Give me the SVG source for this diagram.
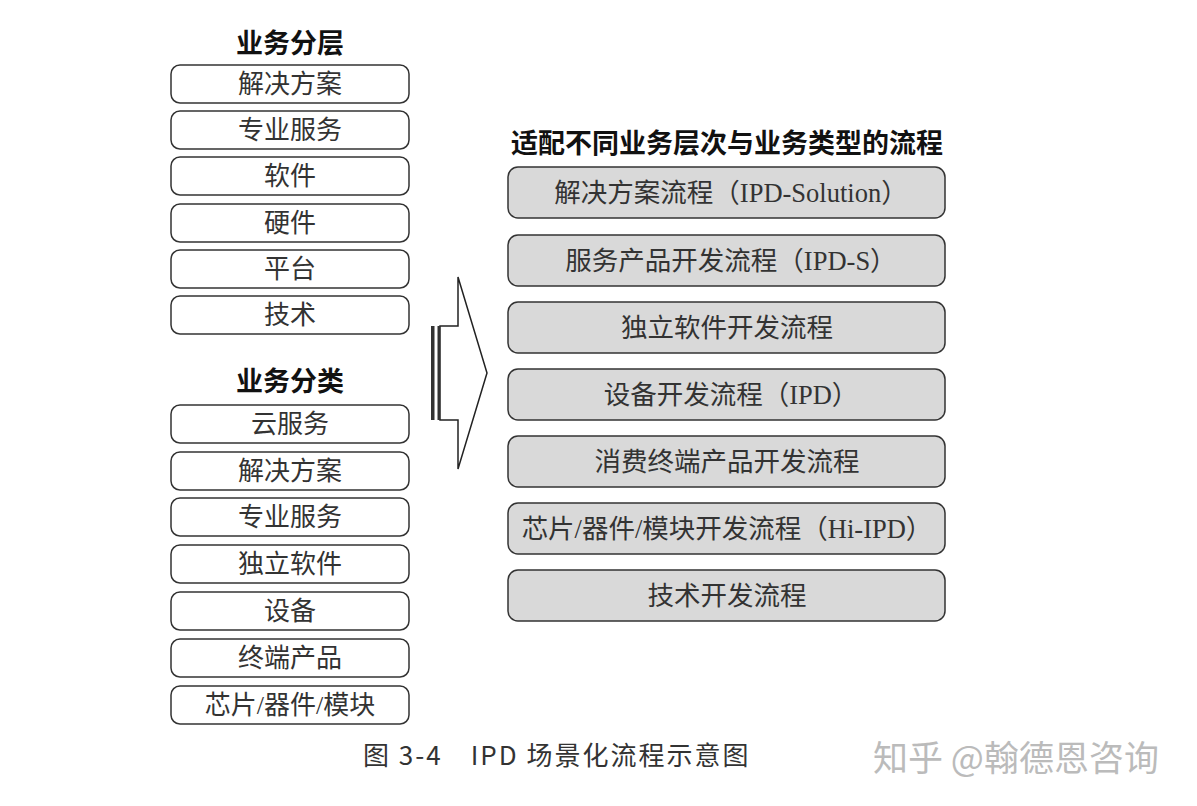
<svg xmlns="http://www.w3.org/2000/svg" width="1197" height="806" viewBox="0 0 1197 806">
<style>
.lb{fill:#fff;stroke:#333;stroke-width:1.5}
.rb{fill:#d9d9d9;stroke:#333;stroke-width:1.5}
.t{font-family:"Liberation Serif","Noto Sans CJK SC",serif;font-size:26px;fill:#333;text-anchor:middle;dominant-baseline:central}
.r{font-size:26.5px}
.h{font-family:"Liberation Serif","Noto Sans CJK SC",serif;font-size:27px;font-weight:bold;fill:#111;text-anchor:middle;dominant-baseline:central}
</style>
<rect width="1197" height="806" fill="#fff"/>
<text class="h" x="290" y="44">业务分层</text>
<g id="l1"><rect class="lb" x="171" y="65" width="238" height="38" rx="9"/><text class="t" x="290" y="84">解决方案</text></g>
<g id="l2"><rect class="lb" x="171" y="111" width="238" height="38" rx="9"/><text class="t" x="290" y="130">专业服务</text></g>
<g id="l3"><rect class="lb" x="171" y="157" width="238" height="38" rx="9"/><text class="t" x="290" y="176">软件</text></g>
<g id="l4"><rect class="lb" x="171" y="204" width="238" height="38" rx="9"/><text class="t" x="290" y="223">硬件</text></g>
<g id="l5"><rect class="lb" x="171" y="250" width="238" height="38" rx="9"/><text class="t" x="290" y="269">平台</text></g>
<g id="l6"><rect class="lb" x="171" y="296" width="238" height="38" rx="9"/><text class="t" x="290" y="315">技术</text></g>
<text class="h" x="290" y="382">业务分类</text>
<g id="c1"><rect class="lb" x="171" y="405" width="238" height="38" rx="9"/><text class="t" x="290" y="424">云服务</text></g>
<g id="c2"><rect class="lb" x="171" y="452" width="238" height="38" rx="9"/><text class="t" x="290" y="471">解决方案</text></g>
<g id="c3"><rect class="lb" x="171" y="498" width="238" height="38" rx="9"/><text class="t" x="290" y="517">专业服务</text></g>
<g id="c4"><rect class="lb" x="171" y="545" width="238" height="38" rx="9"/><text class="t" x="290" y="564">独立软件</text></g>
<g id="c5"><rect class="lb" x="171" y="592" width="238" height="38" rx="9"/><text class="t" x="290" y="611">设备</text></g>
<g id="c6"><rect class="lb" x="171" y="639" width="238" height="38" rx="9"/><text class="t" x="290" y="658">终端产品</text></g>
<g id="c7"><rect class="lb" x="171" y="686" width="238" height="38" rx="9"/><text class="t" x="290" y="705">芯片/器件/模块</text></g>
<g id="connectors">
<polygon points="440,326 458,326 458,277 487,373 458,469 458,420 440,420" fill="#fff" stroke="#222" stroke-width="1.5"/>
<rect x="431" y="326" width="3.5" height="94" fill="#333"/>
<rect x="437.5" y="326" width="2.5" height="94" fill="#333"/>
</g>
<text class="h" x="727" y="144">适配不同业务层次与业务类型的流程</text>
<g id="r1"><rect class="rb" x="508" y="167" width="437" height="51" rx="10"/><text class="t r" x="731" y="193">解决方案流程（IPD-Solution）</text></g>
<g id="r2"><rect class="rb" x="508" y="235" width="437" height="51" rx="10"/><text class="t r" x="731" y="261">服务产品开发流程（IPD-S）</text></g>
<g id="r3"><rect class="rb" x="508" y="302" width="437" height="51" rx="10"/><text class="t r" x="727" y="328">独立软件开发流程</text></g>
<g id="r4"><rect class="rb" x="508" y="369" width="437" height="51" rx="10"/><text class="t r" x="731" y="395">设备开发流程（IPD）</text></g>
<g id="r5"><rect class="rb" x="508" y="436" width="437" height="51" rx="10"/><text class="t r" x="727" y="462">消费终端产品开发流程</text></g>
<g id="r6"><rect class="rb" x="508" y="503" width="437" height="51" rx="10"/><text class="t r" x="727" y="529">芯片/器件/模块开发流程（Hi-IPD）</text></g>
<g id="r7"><rect class="rb" x="508" y="570" width="437" height="51" rx="10"/><text class="t r" x="727" y="596">技术开发流程</text></g>
<text x="363" y="765" font-family="'Noto Sans CJK SC',sans-serif" font-size="26" letter-spacing="2" fill="#333">图 3-4　IPD 场景化流程示意图</text>
<text x="873" y="771" font-family="'Noto Sans CJK SC',sans-serif" font-size="35" fill="#bbb">知乎 @翰德恩咨询</text>
</svg>
